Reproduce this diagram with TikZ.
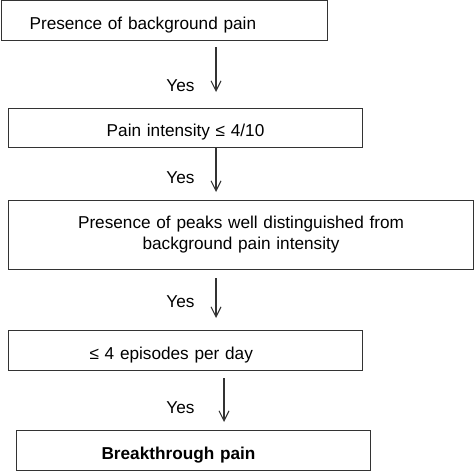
\documentclass[tikz,border=0pt]{standalone}
\usepackage{fontspec}
\setmainfont{Liberation Sans}
\usetikzlibrary{arrows.meta}

\begin{document}
\begin{tikzpicture}[x=1pt, y=-1pt, line width=1.1pt,
        box/.style={rectangle, draw=black!80, anchor=north west, inner ysep=0pt, font=\fontsize{17.2}{21}\selectfont},
        single/.style={text height=17pt, text depth=0pt},
        yes/.style={anchor=base east, inner sep=0pt, font=\fontsize{17.2}{21}\selectfont},
        link/.style={draw=black!80, -{Straight Barb[length=10pt, width=10pt]}}]
        \useasboundingbox (0,0) rectangle (474,471);

        \node[box, single, minimum height=40pt, inner xsep=28pt, text width=270pt, align=left] (bg) at (1,0) {Presence of background pain};
        \node[box, single, minimum height=39pt, inner xsep=10pt, text width=334pt, align=center] (pi) at (8,108) {Pain intensity ≤ 4/10};
        \node[box, minimum height=69pt, inner xsep=10pt, text width=445pt, align=center] (pk) at (8,200) {Presence of peaks well distinguished from\\background pain intensity};
        \node[box, single, minimum height=40pt, inner xsep=81pt, text width=192pt, align=left] (ep) at (8,330) {≤ 4 episodes per day};
        \node[box, single, minimum height=40pt, inner xsep=85pt, text width=184pt, align=left] (bt) at (16,430) {\textbf{Breakthrough pain}};

        \coordinate (c1) at (216,0);
        \coordinate (c2) at (224,0);

        \node[yes] (y1) at (195,91) {Yes};
        \node[yes] (y2) at (195,183) {Yes};
        \node[yes] (y3) at (195,307) {Yes};
        \node[yes] (y4) at (195,413) {Yes};

        \path
        (bg.south -| c1) edge[link, shorten <=6pt, shorten >=16pt] (pi.north -| c1)
        (pi.south -| c1) edge[link, shorten >=8pt] (pk.north -| c1)
        (pk.south -| c1) edge[link, shorten <=8pt, shorten >=12pt] (ep.north -| c1)
        (ep.south -| c2) edge[link, shorten <=7pt, shorten >=8pt] (bt.north -| c2);

    \end{tikzpicture}
\end{document}
